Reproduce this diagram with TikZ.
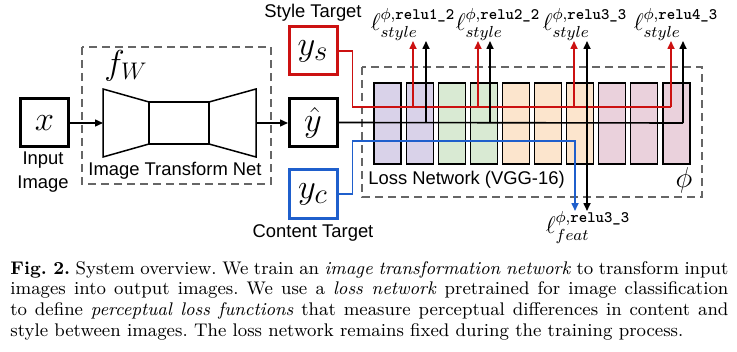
\documentclass[tikz,border=0pt]{standalone}
\usepackage{amsmath}
\usepackage{fontspec}
\newfontfamily\arialfont{Liberation Sans}
\usetikzlibrary{arrows.meta}
\definecolor{lossred}{HTML}{CC1111}
\definecolor{lossblue}{HTML}{1F5FCC}
\definecolor{vggpurple}{HTML}{D9D2E9}
\definecolor{vgggreen}{HTML}{D9EAD3}
\definecolor{vggorange}{HTML}{FCE5CD}
\definecolor{vggpink}{HTML}{EAD1DC}
\definecolor{dashgray}{HTML}{666666}
\newcommand{\relu}[1]{\texttt{\bfseries #1}}
\tikzset{
  varbox/.style={draw,line width=1.5pt,minimum size=24pt,inner sep=0pt,font=\fontsize{19}{22}\selectfont},
  sflabel/.style={font=\arialfont\fontsize{9.2}{11}\selectfont,align=center,inner sep=0pt},
  netbox/.style={draw=dashgray,line width=0.7pt,dash pattern=on 4pt off 2.5pt},
  vggblk/.style={draw,line width=0.6pt,minimum width=13.5pt,minimum height=40.5pt,inner sep=0pt},
  losslbl/.style={font=\fontsize{12}{14}\selectfont,inner sep=0pt},
  flow/.style={line width=0.8pt,-{Triangle[length=4pt,width=3.5pt]}},
}
\begin{document}
\begin{tikzpicture}[x=0.5pt,y=-0.5pt,line join=miter]
  \useasboundingbox (0,0) rectangle (737,352);
  \node[varbox] (x) at (44.5,123) {$x$};
  \node[sflabel] (xlab) at (43,172) {Input\\[1pt]Image};
  \draw[netbox] (82,47) rectangle (271,184);
  \node[font=\fontsize{17}{20}\selectfont] (fw) at (126,66) {$f_W$};
  \draw[line width=0.75pt] (103,89) -- (149,102) -- (149,144) -- (103,157) -- cycle;
  \draw[line width=0.75pt] (149,102) rectangle (209,144);
  \draw[line width=0.75pt] (209,102) -- (256,89) -- (256,157) -- (209,144) -- cycle;
  \node[sflabel] (tnet) at (175,171) {Image Transform Net};
  \coordinate (tin) at (103,123);
  \coordinate (tout) at (256,123);
  \draw[flow,line width=0.7pt] (x) -- (tin);
  \draw[flow,line width=0.7pt] (tout) -- (288,123);
  \node[varbox] (yhat) at (313,122.5) {$\hat{y}$};
  \node[varbox,draw=lossred] (ys) at (313,51) {$y_s$};
  \node[varbox,draw=lossblue] (yc) at (313,194) {$y_c$};
  \node[sflabel] (stylet) at (313,13) {Style Target};
  \node[sflabel] (contentt) at (313,233) {Content Target};
  \draw[netbox] (362,67) rectangle (702,197);
  \foreach \i/\c in {0/vggpurple,1/vggpurple,2/vgggreen,3/vgggreen,4/vggorange,5/vggorange,6/vggorange,7/vggpink,8/vggpink,9/vggpink}
    \node[vggblk,fill=\c] (blk\i) at (387.5+\i*32.1,123.5) {};
  \node[sflabel,anchor=west] (lossname) at (368,180) {Loss Network (VGG-16)};
  \node[font=\fontsize{15}{18}\selectfont] (phi) at (684,180) {$\phi$};
  \draw[lossred,line width=0.8pt] (ys.east) -- ++(14,0) |- (671,107);
  \draw[line width=0.8pt] (yhat.east) -- (683,123);
  \node[losslbl,anchor=north] (feat) at (588,211) {$\ell^{\phi,\relu{relu3\_3}}_{feat}$};
  \draw[flow,lossblue] (yc.east) -- ++(14,0) |- (575,141) -- (575,0 |- feat.north);
  \draw[flow] (587,123) -- (587,0 |- feat.north);
  \foreach \j/\xr/\xb/\lc/\nm in {1/413/426/413/relu1\_2,2/478/490/498/relu2\_2,3/574/587/585/relu3\_3,4/671/683/676/relu4\_3}
  {
    \node[losslbl,anchor=south] (sty\j) at (\lc,41) {$\ell^{\phi,\relu{\nm}}_{style}$};
    \draw[flow,lossred] (\xr,107) -- (\xr,0 |- sty\j.south);
    \draw[flow] (\xb,123) -- (\xb,0 |- sty\j.south);
  }
  \node[anchor=north west,text width=359pt,inner sep=0pt,align=justify,font=\fontsize{9.15}{10.3}\selectfont] (cap) at (10,261)
    {\hyphenpenalty=10000\frenchspacing\textbf{Fig.\ 2.} System overview. We train an \emph{image transformation network} to transform input\linebreak
     images into output images. We use a \emph{loss network} pretrained for image classification\linebreak
     to define \emph{perceptual loss functions} that measure perceptual differences in content and\linebreak
     style between images. The loss network remains fixed during the training process.};
\end{tikzpicture}
\end{document}
